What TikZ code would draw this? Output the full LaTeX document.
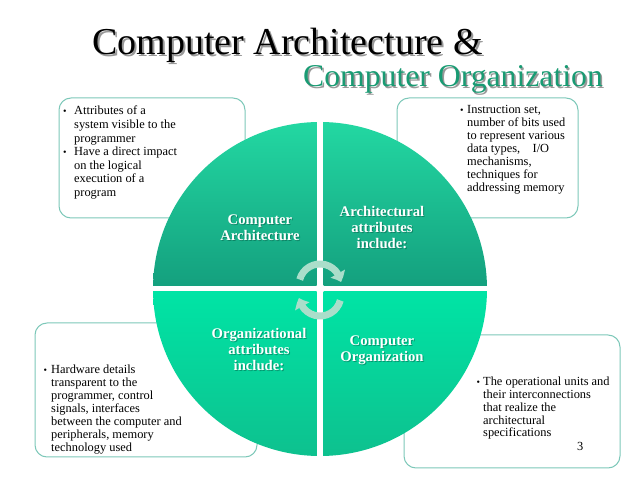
\documentclass[tikz,border=0pt]{standalone}
\usepackage{fontspec}
\setmainfont{Liberation Serif}
\usetikzlibrary{arrows.meta,bending}
\definecolor{boxline}{RGB}{125,200,185}
\definecolor{titlegreen}{RGB}{25,155,115}
\definecolor{topq1}{RGB}{35,217,163}
\definecolor{topq2}{RGB}{20,160,126}
\definecolor{botq1}{RGB}{0,228,165}
\definecolor{botq2}{RGB}{14,192,142}
\definecolor{arrowc}{RGB}{170,222,202}
\definecolor{qshadow}{RGB}{0,80,60}
\newcommand{\shadtext}[3]{\makebox[0pt][l]{\hspace{#1}\raisebox{-#1}{\textcolor{black!40}{#3}}}\textcolor{#2}{#3}}
\begin{document}
\begin{tikzpicture}[x=1pt,y=-1pt,
  boxstyle/.style={draw=boxline, line width=1pt, rounded corners=12pt, fill=white,
    inner sep=0pt, outer sep=0pt, anchor=north west},
  boxtext/.style={anchor=base west, inner sep=0pt, align=left,
    font=\fontsize{12.4}{13.2}\selectfont},
  qlabel/.style={text=white, align=center, inner sep=0pt,
    font=\bfseries\fontsize{14.7}{16}\selectfont},
  qshad/.style={text=qshadow, opacity=0.45, align=center, inner sep=0pt,
    font=\bfseries\fontsize{14.7}{16}\selectfont},
  cyc/.style={draw=arrowc, line width=7pt, -{Triangle[length=9pt,width=16pt,bend]}}
]
\useasboundingbox[fill=white] (0,0) rectangle (638,478);

% title
\node[anchor=base west, inner sep=0pt, font=\fontsize{38}{40}\selectfont] (t1) at (92,55) {\shadtext{2pt}{black}{Computer Architecture \&}};
\node[anchor=base west, inner sep=0pt, font=\fontsize{31.7}{34}\selectfont] (t2) at (303,86.7) {\shadtext{1.6pt}{titlegreen}{Computer Organization}};

% boxes
\node[boxstyle, minimum width=186pt, minimum height=120pt] (tlbox) at (59,98) {};
\node[boxstyle, minimum width=181pt, minimum height=120pt] (trbox) at (397,98) {};
\node[boxstyle, minimum width=222pt, minimum height=134pt] (blbox) at (35,323) {};
\node[boxstyle, minimum width=216pt, minimum height=133pt] (brbox) at (404,335) {};

% box texts
\node[boxtext] (tltext) at (74,115) {\fontsize{12.4}{13.6}\selectfont\begin{tabular}[t]{@{}l@{}}
\llap{\makebox[11pt][l]{\scalebox{0.8}{\textbullet}}}Attributes of a\\
system visible to the\\
programmer\\
\llap{\makebox[11pt][l]{\scalebox{0.8}{\textbullet}}}Have a direct impact\\
on the logical\\
execution of a\\
program
\end{tabular}};

\node[boxtext] (trtext) at (467,114) {\fontsize{12.4}{12.9}\selectfont\begin{tabular}[t]{@{}l@{}}
\llap{\makebox[7pt][l]{\scalebox{0.8}{\textbullet}}}Instruction set,\\
number of bits used\\
to represent various\\
data types,\quad I/O\\
mechanisms,\\
techniques for\\
addressing memory
\end{tabular}};

\node[boxtext] (bltext) at (51,374) {\fontsize{12.4}{12.9}\selectfont\begin{tabular}[t]{@{}l@{}}
\llap{\makebox[7.5pt][l]{\scalebox{0.8}{\textbullet}}}Hardware details\\
transparent to the\\
programmer, control\\
signals, interfaces\\
between the computer and\\
peripherals, memory\\
technology used
\end{tabular}};

\node[boxtext] (brtext) at (483,386) {\fontsize{12.4}{12.75}\selectfont\begin{tabular}[t]{@{}l@{}}
\llap{\makebox[6.5pt][l]{\scalebox{0.8}{\textbullet}}}The operational units and\\
their interconnections\\
that realize the\\
architectural\\
specifications
\end{tabular}};

\node[boxtext] (pagenum) at (577,451) {3};

% quadrants
\begin{scope}
  \clip (320,289) circle (167);
  \shade[top color=topq1, bottom color=topq2] (150,118) rectangle (316.5,285.7);
  \shade[top color=topq1, bottom color=topq2] (323.5,118) rectangle (490,285.7);
  \shade[top color=botq1, bottom color=botq2] (150,291.7) rectangle (316.5,460);
  \shade[top color=botq1, bottom color=botq2] (323.5,291.7) rectangle (490,460);
\end{scope}

% quadrant labels
\node[qshad] (cas) at (261,229) {Computer\\Architecture};
\node[qlabel] (ca) at (260,228) {Computer\\Architecture};
\node[qshad] (aas) at (383,229) {Architectural\\attributes\\include:};
\node[qlabel] (aa) at (382,228) {Architectural\\attributes\\include:};
\node[qshad] (oas) at (260,351) {Organizational\\attributes\\include:};
\node[qlabel] (oa) at (259,350) {Organizational\\attributes\\include:};
\node[qshad] (cos) at (383,351) {Computer\\Organization};
\node[qlabel] (co) at (382,350) {Computer\\Organization};

% cycle arrows
\coordinate (c1) at (320,285);
\coordinate (c2) at (320,295);
\draw[cyc] (c1) ++(195:21) arc[start angle=195, end angle=352, radius=21];
\draw[cyc] (c2) ++(15:21) arc[start angle=15, end angle=172, radius=21];
\end{tikzpicture}
\end{document}
